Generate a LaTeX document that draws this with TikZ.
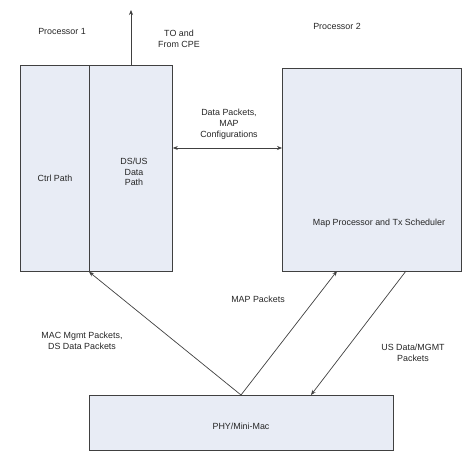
\documentclass[tikz,border=0pt]{standalone}
\usepackage{fontspec}
\setmainfont{Liberation Sans}
\usetikzlibrary{arrows.meta}
\definecolor{boxfill}{HTML}{E8ECF5}
\definecolor{linegray}{HTML}{404040}
\begin{document}
\begin{tikzpicture}[x=1pt,y=-1pt,
  blk/.style={draw=linegray,fill=boxfill,line width=0.8pt,inner sep=0pt},
  lbl/.style={font=\fontsize{8.9}{10.8}\selectfont,align=center,text=black!85,inner sep=0pt},
  conn/.style={draw=linegray,line width=0.7pt},
  tip/.style={-{Stealth[length=5pt,width=4pt]}}]
\useasboundingbox (0,0) rectangle (474,460);
% boxes
\node[blk,minimum width=69pt,minimum height=206pt,anchor=north west] (ctrl) at (20,65) {};
\node[blk,minimum width=83pt,minimum height=206pt,anchor=north west] (dsus) at (89,65) {};
\node[blk,minimum width=179pt,minimum height=203pt,anchor=north west] (p2) at (282,68) {};
\node[blk,minimum width=304pt,minimum height=55pt,anchor=north west] (phy) at (89,395) {};
% texts
\node[lbl] (tp1) at (62,31) {Processor 1};
\node[lbl] (tp2) at (337,26) {Processor 2};
\node[lbl] (tcpe) at (179,39) {TO and\\From CPE};
\node[lbl] (tdp) at (229,124) {Data Packets,\\MAP\\Configurations};
\node[lbl] (tctrl) at (55,178) {Ctrl Path};
\node[lbl] (tds) at (134,172) {DS/US\\Data\\Path};
\node[lbl] (tmap) at (379,223) {Map Processor and Tx Scheduler};
\node[lbl] (tmp) at (258,299) {MAP Packets};
\node[lbl] (tmac) at (82,341) {MAC Mgmt Packets,\\DS Data Packets};
\node[lbl] (tus) at (413,353) {US Data/MGMT\\Packets};
\node[lbl] (tphy) at (241,426) {PHY/Mini-Mac};
% connectors
\coordinate (cpeTop) at (131,10);
\coordinate (cpeBot) at (131,65);
\draw[conn,tip] (cpeBot) -- (cpeTop);
\draw[conn,{Stealth[length=5pt,width=4pt]}-{Stealth[length=5pt,width=4pt]}] (dsus.east |- 0,148) -- (p2.west |- 0,148);
\coordinate (phyTop) at (241,395);
\coordinate (p2in) at (337,271);
\coordinate (p2out) at (406,271);
\coordinate (phyIn) at (311,395);
\draw[conn,tip] (phyTop) -- (dsus.south west);
\draw[conn,tip] (phyTop) -- (p2in);
\draw[conn,tip] (p2out) -- (phyIn);
\end{tikzpicture}
\end{document}
